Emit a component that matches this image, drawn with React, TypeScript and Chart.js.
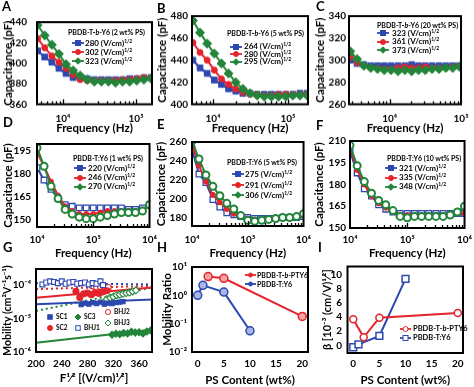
import React, { useEffect, useRef } from 'react';
import { Chart, registerables } from 'chart.js';

Chart.register(...registerables);

const FONT = '"Lato", "DejaVu Sans", sans-serif';
const BLUE = '#2c48b0';
const RED = '#e5232b';
const GREEN = '#22853a';

// ---------------- Panel A ----------------
const freqA = [4500, 5620, 7030, 8790, 10990, 13740, 17180, 21480, 26850, 33570, 41980, 52480, 65610, 82040, 102570, 128230, 160300];
const fieldsA = [280, 302, 323];
const capA1 = [412, 406, 401, 395, 390, 386, 385, 385, 384, 384, 384, 384, 384, 385, 385, 386, 386];
const capA2 = [424, 415, 407, 401, 395, 389, 384, 383, 383, 383, 383, 383, 384, 384, 385, 386, 386];
const capA3 = [437, 427, 418, 409, 399, 393, 388, 384, 382, 382, 382, 381, 382, 382, 383, 384, 385];
const capTicksA = [360, 380, 400, 420, 440];

// ---------------- Panel B ----------------
const freqB = [5400, 6720, 8360, 10410, 12970, 16140, 20090, 25010, 31180, 38810, 48310, 60130, 74820, 93330, 116100, 144500, 179900];
const fieldsB = [264, 280, 295];
const capB1 = [440, 433, 428, 422, 418, 414, 412, 410, 410, 409, 409, 409, 409, 409, 409, 410, 410];
const capB2 = [456, 447, 440, 431, 423, 418, 414, 411, 409, 409, 408, 408, 409, 409, 409, 409, 409];
const capB3 = [476, 465, 455, 446, 437, 428, 420, 414, 410, 408, 407, 407, 407, 407, 408, 408, 408];
const capTicksB = [400, 420, 440, 460, 480];

// ---------------- Panel C ----------------
const freqC = [2800, 3490, 4350, 5420, 6760, 8410, 10490, 13090, 16300, 20320, 25350, 31550, 39360, 49090, 61090, 76210, 95060];
const fieldsC = [323, 361, 373];
const capC1 = [300, 297, 296, 295, 295, 295, 295, 295, 295, 296, 295, 295, 295, 295, 295, 295, 295];
const capC2 = [303, 298, 295, 293, 293, 292, 292, 293, 294, 293, 293, 294, 293, 293, 293, 294, 294];
const capC3 = [308, 301, 295, 293, 292, 291, 291, 290, 291, 290, 291, 291, 292, 292, 293, 293, 294];
const capTicksC = [260, 280, 300, 320, 340];

// ---------------- Panels D, E, F ----------------
const freqDEF = [10000, 13340, 17780, 23710, 31620, 42170, 56230, 74990, 100000, 133400, 177800, 237100, 316200, 421700, 562300, 749900, 1000000];
const fieldsD = [220, 246, 270];
const capD1 = [184, 176, 170, 164, 160, 159, 158, 158, 158, 158, 158, 158, 158, 157, 157, 158, 160];
const capD2 = [194, 185, 175, 166, 159, 156, 154, 154, 154, 155, 156, 156, 156, 156, 156, 157, 159];
const capD3 = [197, 185, 172, 164, 157, 154, 152, 151, 151, 152, 153, 154, 155, 155, 155, 156, 160];
const capTicksD = [150, 165, 180, 195];

const fieldsE = [275, 291, 306];
const capE1 = [252, 226, 217, 199, 191, 185, 183, 181, 180, 179, 179, 179, 179, 180, 180, 180, 181];
const capE2 = [257, 235, 218, 204, 196, 189, 184, 181, 179, 178, 178, 179, 179, 180, 180, 181, 182];
const capE3 = [261, 242, 225, 213, 203, 195, 189, 182, 177, 176, 177, 178, 179, 180, 180, 181, 184];
const capTicksE = [180, 200, 220, 240, 260];

const fieldsF = [321, 335, 348];
const capF1 = [203, 188, 177, 172, 166, 163, 161, 160, 160, 160, 160, 160, 160, 160, 160, 160, 160];
const capF2 = [206, 190, 180, 172, 167, 164, 161, 159, 159, 159, 159, 159, 159, 159, 159, 160, 160];
const capF3 = [207, 193, 182, 174, 169, 166, 162, 158, 157, 158, 158, 158, 158, 158, 159, 161, 165];
const capTicksF = [150, 165, 180, 195, 210];

const freqTicks2 = [1e4, 1e5];
const freqLabels2 = ['10⁴', '10⁵'];
const freqTicks3 = [1e4, 1e5, 1e6];
const freqLabels3 = ['10⁴', '10⁵', '10⁶'];

// ---------------- Panel G ----------------
const sc1X = [270, 276, 282, 288, 294, 300, 306, 312, 318, 324, 330, 335];
const sc1Y = [2.6e-5, 2.9e-5, 2.7e-5, 3.0e-5, 2.8e-5, 3.1e-5, 2.7e-5, 2.9e-5, 2.8e-5, 3.0e-5, 3.1e-5, 3.2e-5];
const sc2X = [262, 268, 274, 280, 286, 292, 298, 304, 310];
const sc2Y = [6.5e-5, 4.3e-5, 5.5e-5, 5.8e-5, 5.2e-5, 6.0e-5, 5.6e-5, 6.3e-5, 6.8e-5];
const sc3X = [318, 324, 330, 336, 342, 348, 354, 360, 366, 372, 378];
const sc3Y = [3.3e-6, 3.5e-6, 3.4e-6, 3.7e-6, 3.6e-6, 4.0e-6, 3.8e-6, 3.9e-6, 3.6e-6, 4.1e-6, 4.4e-6];
const bhj1X = [210, 216, 222, 228, 234, 240, 246, 252, 258, 264, 270, 276, 282, 288, 294, 300, 304];
const bhj1Y = [1.05e-4, 1.2e-4, 1.3e-4, 1.25e-4, 1.15e-4, 1.3e-4, 1.1e-4, 1.2e-4, 1.25e-4, 1.1e-4, 1.15e-4, 1.2e-4, 1.05e-4, 1.15e-4, 1.1e-4, 1.3e-4, 1.0e-4];
const bhj2X = [288, 294, 300, 306, 312];
const bhj2Y = [9.5e-5, 8.5e-5, 9.0e-5, 8.0e-5, 8.5e-5];
const bhj3X = [310, 315, 320, 325, 330, 335, 340, 345, 350, 355];
const bhj3Y = [3.8e-5, 4.2e-5, 4.5e-5, 5.0e-5, 5.2e-5, 5.5e-5, 5.8e-5, 6.0e-5, 6.5e-5, 7.0e-5];
const fitX = [200, 380];
const fitSC1 = [2.7e-5, 3.7e-5];
const fitSC2 = [4.2e-5, 8.5e-5];
const fitSC3 = [1.9e-6, 4.6e-6];
const fitBHJ1 = [1.15e-4, 1.05e-4];
const fitBHJ2 = [7.6e-5, 9.5e-5];
const fitBHJ3 = [1.7e-5, 8.5e-5];
const fieldTicksG = [200, 240, 280, 320, 360];
const fieldLabelsG = ['200', '240', '280', '320', '360'];
const mobTicks = [1e-6, 1e-5, 1e-4];
const mobLabels = ['10⁻⁶', '10⁻⁵', '10⁻⁴'];

// ---------------- Panel H ----------------
const psHb = [2, 5, 20];
const ratioHb = [4.6, 4.0, 0.18];
const psHt = [0, 1, 5, 10];
const ratioHt = [1.0, 2.25, 1.3, 0.056];
const ratioTicks = [0.01, 0.1, 1, 10];
const ratioLabels = ['10⁻²', '10⁻¹', '10⁰', '10¹'];
const psTicks = [0, 5, 10, 15, 20];
const psLabels = ['0', '5', '10', '15', '20'];

// ---------------- Panel I ----------------
const psIb = [0, 2, 5, 20];
const betaIb = [3.7, 1.15, 3.9, 4.55];
const psIt = [0, 1, 5, 10];
const betaIt = [-0.25, 0.15, 1.35, 9.35];
const betaTicks = [0, 2, 4, 6, 8, 10];
const betaLabels = ['0', '2', '4', '6', '8', '10'];

// ======================================================
type Geo = { cx: number; plot: [number, number, number, number]; yTitleX: number; yLabelRight: number; xLabelY: number; xTitleY: number };
type AxisSpec = { type: 'linear' | 'logarithmic'; min: number; max: number; ticks: number[]; labels: string[]; title: string; titleSize?: number };

const PAD_TOP = 10;
const PAD_RIGHT = 12;
const TICK_SIZE = 10;
const TICK_LH = 12;

function layoutOf(g: Geo) {
  const [l, t, r, b] = g.plot;
  const left = g.cx;
  const top = t - PAD_TOP;
  const bottom = g.xTitleY + 8;
  return { left, top, width: r + PAD_RIGHT - left, height: bottom - top, yW: l - left, xH: bottom - b };
}

function scaleOpts(axis: 'x' | 'y', spec: AxisSpec, g: Geo) {
  const L = layoutOf(g);
  const TS = spec.titleSize ?? 11.5;
  const o: any = {
    type: spec.type,
    min: spec.min,
    max: spec.max,
    position: axis === 'x' ? 'bottom' : 'left',
    grid: { display: false, drawTicks: false },
    border: { display: false },
    afterBuildTicks: (s: any) => {
      s.ticks = spec.ticks.map((v) => ({ value: v }));
    },
    ticks: {
      autoSkip: false,
      maxRotation: 0,
      minRotation: 0,
      color: '#000',
      font: { family: FONT, size: TICK_SIZE, weight: 'bold', lineHeight: TICK_LH / TICK_SIZE },
      callback: (v: any) => {
        const i = spec.ticks.indexOf(Number(v));
        return i >= 0 ? spec.labels[i] : '';
      },
    },
    title: {
      display: true,
      text: spec.title,
      color: '#000',
      font: { family: FONT, size: TS, weight: 'bold', lineHeight: 1 },
    },
  };
  if (axis === 'x') {
    o.ticks.padding = g.xLabelY - g.plot[3] - TICK_LH / 2;
    o.title.padding = { top: 0, bottom: 8 - TS / 2 };
    o.afterFit = (s: any) => {
      s.height = L.xH;
    };
  } else {
    o.ticks.padding = g.plot[0] - g.yLabelRight;
    o.title.padding = { top: g.yTitleX - g.cx - TS / 2, bottom: 0 };
    o.afterFit = (s: any) => {
      s.width = L.yW;
    };
  }
  return o;
}

function logMinorTicks(min: number, max: number): number[] {
  const out: number[] = [];
  for (let e = Math.floor(Math.log10(min)); e <= Math.ceil(Math.log10(max)); e++) {
    for (let m = 2; m <= 9; m++) {
      const v = m * Math.pow(10, e);
      if (v > min && v < max) out.push(v);
    }
  }
  return out;
}

function makeFrame(xMinor: number[], xMajor: number[]) {
  return {
    id: 'frame',
    afterDatasetsDraw(chart: any) {
      const { ctx, chartArea: a, scales } = chart;
      ctx.save();
      ctx.strokeStyle = '#000';
      ctx.lineWidth = 1.3;
      const tick = (vals: number[], len: number) => {
        for (const v of vals) {
          const px = Math.round(scales.x.getPixelForValue(v)) + 0.5;
          if (px <= a.left + 2 || px >= a.right - 2) continue;
          ctx.beginPath();
          ctx.moveTo(px, a.bottom);
          ctx.lineTo(px, a.bottom - len);
          ctx.stroke();
        }
      };
      tick(xMinor, 3);
      tick(xMajor, 5);
      ctx.lineWidth = 2;
      ctx.strokeRect(a.left, a.top, a.right - a.left, a.bottom - a.top);
      ctx.restore();
    },
  };
}

function makeConfig(g: Geo, xs: AxisSpec, ys: AxisSpec, datasets: any[], minor: boolean) {
  const L = layoutOf(g);
  return {
    type: 'scatter',
    data: { datasets },
    options: {
      responsive: false,
      maintainAspectRatio: false,
      animation: false,
      events: [],
      layout: { padding: { left: 0, top: PAD_TOP, right: PAD_RIGHT, bottom: 0 } },
      plugins: { legend: { display: false }, tooltip: { enabled: false } },
      scales: { x: scaleOpts('x', xs, g), y: scaleOpts('y', ys, g) },
    },
    plugins: [makeFrame(minor ? logMinorTicks(xs.min, xs.max) : [], minor ? xs.ticks : [])],
    _layout: L,
  };
}

function pts(xs: number[], ys: number[]) {
  return xs.map((x, i) => ({ x, y: ys[i] }));
}

function capDatasets(freq: number[], fields: number[], ys: number[][], open: boolean) {
  const common = { showLine: true, borderWidth: 2, tension: 0 };
  return [
    { ...common, label: `${fields[0]}`, data: pts(freq, ys[0]), borderColor: BLUE, pointStyle: 'rect', pointRadius: 4, pointBackgroundColor: open ? '#fff' : BLUE, pointBorderColor: BLUE, pointBorderWidth: open ? 1.3 : 1, order: 3 },
    { ...common, label: `${fields[1]}`, data: pts(freq, ys[1]), borderColor: RED, pointStyle: 'circle', pointRadius: open ? 2.5 : 3, pointBackgroundColor: RED, pointBorderColor: RED, pointBorderWidth: 1, order: 2 },
    { ...common, label: `${fields[2]}`, data: pts(freq, ys[2]), borderColor: GREEN, pointStyle: open ? 'circle' : 'rectRot', pointRadius: open ? 3.5 : 4.5, pointBackgroundColor: open ? '#fff' : GREEN, pointBorderColor: GREEN, pointBorderWidth: open ? 2 : 1, order: 1 },
  ];
}

const CAP_TITLE = 'Capacitance (pF)';
const FREQ_TITLE = 'Frequency (Hz)';

// ---------- geometry ----------
const geoA: Geo = { cx: 0, plot: [37, 16, 152, 104], yTitleX: 8, yLabelRight: 27, xLabelY: 118.5, xTitleY: 127.5 };
const geoB: Geo = { cx: 155, plot: [192, 16, 308, 104], yTitleX: 162, yLabelRight: 188, xLabelY: 118.5, xTitleY: 127.5 };
const geoC: Geo = { cx: 314, plot: [349, 16, 465, 104], yTitleX: 320, yLabelRight: 346, xLabelY: 118.5, xTitleY: 127.5 };
const geoD: Geo = { cx: 0, plot: [37, 142, 152, 227], yTitleX: 8, yLabelRight: 31, xLabelY: 240, xTitleY: 253 };
const geoE: Geo = { cx: 155, plot: [192, 141, 307, 226], yTitleX: 161, yLabelRight: 187, xLabelY: 240, xTitleY: 253 };
const geoF: Geo = { cx: 314, plot: [350, 141, 466, 228], yTitleX: 319, yLabelRight: 346, xLabelY: 240, xTitleY: 253 };
const geoG: Geo = { cx: 0, plot: [36, 268, 152, 352], yTitleX: 8, yLabelRight: 31, xLabelY: 363.5, xTitleY: 378 };
const geoH: Geo = { cx: 155, plot: [192, 265.5, 308, 352], yTitleX: 167, yLabelRight: 187, xLabelY: 363.5, xTitleY: 380 };
const geoI: Geo = { cx: 314, plot: [347.5, 265, 463, 353], yTitleX: 327, yLabelRight: 342, xLabelY: 363.5, xTitleY: 380 };

function freqAxis(min: number, max: number, ticks: number[], labels: string[]): AxisSpec {
  return { type: 'logarithmic', min, max, ticks, labels, title: FREQ_TITLE };
}
function capAxis(min: number, max: number, ticks: number[]): AxisSpec {
  return { type: 'linear', min, max, ticks, labels: ticks.map(String), title: CAP_TITLE };
}

function buildConfigs() {
  const cA = makeConfig(geoA, freqAxis(4406, 165600, freqTicks2, freqLabels2), capAxis(360, 440, capTicksA), capDatasets(freqA, fieldsA, [capA1, capA2, capA3], false), true);
  const cB = makeConfig(geoB, freqAxis(5248, 184900, freqTicks2, freqLabels2), capAxis(400, 480, capTicksB), capDatasets(freqB, fieldsB, [capB1, capB2, capB3], false), true);
  const cC = makeConfig(geoC, freqAxis(2690, 100000, freqTicks2, freqLabels2), capAxis(260, 340, capTicksC), capDatasets(freqC, fieldsC, [capC1, capC2, capC3], false), true);
  const cD = makeConfig(geoD, freqAxis(1e4, 1e6, freqTicks3, freqLabels3), capAxis(145.6, 199.4, capTicksD), capDatasets(freqDEF, fieldsD, [capD1, capD2, capD3], true), true);
  const cE = makeConfig(geoE, freqAxis(1e4, 1e6, freqTicks3, freqLabels3), capAxis(171, 260, capTicksE), capDatasets(freqDEF, fieldsE, [capE1, capE2, capE3], true), true);
  const cF = makeConfig(geoF, freqAxis(1e4, 1e6, freqTicks3, freqLabels3), capAxis(150, 210, capTicksF), capDatasets(freqDEF, fieldsF, [capF1, capF2, capF3], true), true);

  const ptG = (x: number[], y: number[], color: string, style: string, open: boolean, r: number, order: number) => ({
    data: pts(x, y), showLine: false, pointStyle: style, pointRadius: r, pointBackgroundColor: open ? '#fff' : color, pointBorderColor: color, pointBorderWidth: 1.1, order,
  });
  const fitG = (y: number[], color: string, dotted: boolean, order: number) => ({
    data: pts(fitX, y), showLine: true, borderColor: color, borderWidth: 2, borderDash: dotted ? [2, 3] : [], pointRadius: 0, order,
  });
  const cG = makeConfig(
    geoG,
    { type: 'linear', min: 200, max: 380, ticks: fieldTicksG, labels: fieldLabelsG, title: 'F¹⁄² [(V/cm)¹⁄²]' },
    { type: 'logarithmic', min: 1e-6, max: 3.04e-4, ticks: mobTicks, labels: mobLabels, title: 'Mobility (cm²V⁻¹s⁻¹)', titleSize: 10.5 },
    [
      ptG(sc1X, sc1Y, BLUE, 'rect', false, 3, 1),
      ptG(sc2X, sc2Y, RED, 'circle', false, 3, 1),
      ptG(sc3X, sc3Y, GREEN, 'rectRot', false, 3.5, 1),
      ptG(bhj1X, bhj1Y, BLUE, 'rect', true, 3.5, 1),
      ptG(bhj2X, bhj2Y, RED, 'circle', true, 3, 1),
      ptG(bhj3X, bhj3Y, GREEN, 'rectRot', true, 3.5, 1),
      fitG(fitSC1, BLUE, false, 5),
      fitG(fitSC2, RED, false, 5),
      fitG(fitSC3, GREEN, false, 5),
      fitG(fitBHJ1, BLUE, true, 5),
      fitG(fitBHJ2, RED, true, 5),
      fitG(fitBHJ3, GREEN, true, 5),
    ],
    false
  );

  const cH = makeConfig(
    geoH,
    { type: 'linear', min: -1.09, max: 21.1, ticks: psTicks, labels: psLabels, title: 'PS Content (wt%)' },
    { type: 'logarithmic', min: 0.01, max: 10, ticks: ratioTicks, labels: ratioLabels, title: 'Mobility Ratio' },
    [
      { data: pts(psHb, ratioHb), showLine: true, borderColor: RED, borderWidth: 2, pointStyle: 'circle', pointRadius: 4, pointBackgroundColor: '#f5a3a3', pointBorderColor: RED, pointBorderWidth: 1.5, order: 1 },
      { data: pts(psHt, ratioHt), showLine: true, borderColor: BLUE, borderWidth: 2, pointStyle: 'circle', pointRadius: 4, pointBackgroundColor: '#a9b5e6', pointBorderColor: BLUE, pointBorderWidth: 1.5, order: 2 },
    ],
    false
  );

  const cI = makeConfig(
    geoI,
    { type: 'linear', min: -1.1, max: 21, ticks: psTicks, labels: psLabels, title: 'PS Content (wt%)' },
    { type: 'linear', min: -1.06, max: 11.1, ticks: betaTicks, labels: betaLabels, title: 'β [10⁻³ (cm/V)¹⁄²]', titleSize: 11 },
    [
      { data: pts(psIb, betaIb), showLine: true, borderColor: RED, borderWidth: 2, pointStyle: 'circle', pointRadius: 3.5, pointBackgroundColor: '#fff', pointBorderColor: RED, pointBorderWidth: 1.5, order: 1 },
      { data: pts(psIt, betaIt), showLine: true, borderColor: BLUE, borderWidth: 2, pointStyle: 'rect', pointRadius: 4.8, pointBackgroundColor: '#fff', pointBorderColor: BLUE, pointBorderWidth: 1.5, order: 2 },
    ],
    false
  );
  return [cA, cB, cC, cD, cE, cF, cG, cH, cI];
}

function ChartCanvas({ config }: { config: any }) {
  const ref = useRef<HTMLCanvasElement>(null);
  const L = config._layout;
  useEffect(() => {
    const { _layout, ...cfg } = config;
    const chart = new Chart(ref.current as HTMLCanvasElement, cfg);
    return () => chart.destroy();
  }, [config]);
  return <canvas ref={ref} width={L.width} height={L.height} style={{ position: 'absolute', left: L.left, top: L.top, width: L.width, height: L.height }} />;
}

// ---------------- Legends (HTML) ----------------
type Shape = 'square' | 'circle' | 'diamond';
function Glyph({ shape, color, open, size, line = true, w = 12 }: { shape: Shape; color: string; open?: boolean; size: number; line?: boolean; w?: number }) {
  const h = 10;
  const cx = w / 2;
  const cy = h / 2;
  const fill = open ? '#fff' : color;
  let mark: any;
  if (shape === 'square') mark = <rect x={cx - size / 2} y={cy - size / 2} width={size} height={size} fill={fill} stroke={color} strokeWidth={1} />;
  else if (shape === 'circle') mark = <circle cx={cx} cy={cy} r={size / 2} fill={fill} stroke={color} strokeWidth={1} />;
  else mark = <polygon points={`${cx},${cy - size / 2} ${cx + size / 2},${cy} ${cx},${cy + size / 2} ${cx - size / 2},${cy}`} fill={fill} stroke={color} strokeWidth={1} />;
  return (
    <svg width={w} height={h} style={{ display: 'block', flex: 'none' }}>
      {line && <line x1={0} y1={cy} x2={w} y2={cy} stroke={color} strokeWidth={1.8} />}
      {mark}
    </svg>
  );
}

function Row({ x, y, size, glyph, children, gap = 2 }: any) {
  return (
    <div style={{ position: 'absolute', left: x, top: y - 5, height: 10, display: 'flex', alignItems: 'center', gap, fontFamily: FONT, fontWeight: 700, fontSize: size, lineHeight: '10px', whiteSpace: 'nowrap', color: '#000' }}>
      {glyph}
      <span>{children}</span>
    </div>
  );
}

function Sup({ children }: any) {
  return <span style={{ fontSize: '0.62em', position: 'relative', top: '-0.55em' }}>{children}</span>;
}

function Title({ x, y, size, children }: any) {
  return (
    <div style={{ position: 'absolute', left: x, top: y - 5, height: 10, lineHeight: '10px', fontFamily: FONT, fontWeight: 700, fontSize: size, whiteSpace: 'nowrap', color: '#000' }}>{children}</div>
  );
}

function CapLegend({ tx, ty, title, mx, tX, ys, fields }: any) {
  const glyphs = [
    <Glyph shape="square" color={BLUE} size={5} />,
    <Glyph shape="circle" color={RED} size={5} />,
    <Glyph shape="diamond" color={GREEN} size={6.5} />,
  ];
  return (
    <>
      <Title x={tx} y={ty} size={7}>{title}</Title>
      {fields.map((f: number, i: number) => (
        <Row key={i} x={mx} y={ys[i]} size={8} glyph={glyphs[i]} gap={tX - mx - 12}>
          {f} (V/cm)<Sup>1/2</Sup>
        </Row>
      ))}
    </>
  );
}

function Letter({ x, y, children }: any) {
  return <div style={{ position: 'absolute', left: x, top: y, fontFamily: FONT, fontWeight: 700, fontSize: 13, lineHeight: '13px', color: '#000' }}>{children}</div>;
}

const configs = buildConfigs();

export default function App() {
  return (
    <div style={{ position: 'absolute', left: 0, top: 0, width: 474, height: 387, overflow: 'hidden', background: '#fff' }}>
      {configs.map((c, i) => (
        <ChartCanvas key={i} config={c} />
      ))}

      <Letter x={2} y={0}>A</Letter>
      <Letter x={157} y={2}>B</Letter>
      <Letter x={316} y={0}>C</Letter>
      <Letter x={3} y={116}>D</Letter>
      <Letter x={157} y={118}>E</Letter>
      <Letter x={316} y={119}>F</Letter>
      <Letter x={3} y={241}>G</Letter>
      <Letter x={157} y={241}>H</Letter>
      <Letter x={318} y={241}>I</Letter>

      <CapLegend tx={68} ty={32} title={<>PBDB-T-<i>b</i>-Y6 (2 wt% PS)</>} mx={72} tX={85} ys={[43.3, 52.3, 61]} fields={fieldsA} />
      <CapLegend tx={227} ty={33.3} title={<>PBDB-T-<i>b</i>-Y6 (5 wt% PS)</>} mx={230} tX={244} ys={[46.7, 54, 61.7]} fields={fieldsB} />
      <CapLegend tx={377} ty={25} title={<>PBDB-T-<i>b</i>-Y6 (20 wt% PS)</>} mx={377} tX={392} ys={[33.3, 41.7, 50]} fields={fieldsC} />
      <CapLegend tx={73} ty={158.3} title="PBDB-T:Y6 (1 wt% PS)" mx={74} tX={88} ys={[168.3, 177.7, 186.7]} fields={fieldsD} />
      <CapLegend tx={227} ty={162.3} title="PBDB-T:Y6 (5 wt% PS)" mx={232} tX={245} ys={[174.3, 185, 195]} fields={fieldsE} />
      <CapLegend tx={387} ty={158.3} title="PBDB-T:Y6 (10 wt% PS)" mx={385} tX={399} ys={[168.3, 177.7, 186.7]} fields={fieldsF} />

      {/* Panel G legend */}
      <Row x={47} y={317} size={6.5} glyph={<Glyph shape="square" color={BLUE} size={4.5} line={false} w={6} />} gap={3}>SC1</Row>
      <Row x={47} y={328} size={6.5} glyph={<Glyph shape="circle" color={RED} size={5} line={false} w={6} />} gap={3}>SC2</Row>
      <Row x={75} y={317} size={6.5} glyph={<Glyph shape="diamond" color={GREEN} size={6} line={false} w={6} />} gap={3}>SC3</Row>
      <Row x={75} y={328} size={6.5} glyph={<Glyph shape="square" color={BLUE} open size={4.5} line={false} w={6} />} gap={3}>BHJ1</Row>
      <Row x={105} y={312} size={6.5} glyph={<Glyph shape="circle" color={RED} open size={5} line={false} w={6} />} gap={3}>BHJ2</Row>
      <Row x={105} y={323} size={6.5} glyph={<Glyph shape="diamond" color={GREEN} open size={6} line={false} w={6} />} gap={3}>BHJ3</Row>

      {/* Panel H legend */}
      <Row x={245} y={275} size={7} glyph={<Glyph shape="circle" color={RED} size={4} w={11} />} gap={1}>
        PBDB-T-<i>b</i>-PTY6
      </Row>
      <Row x={245} y={284} size={7} glyph={<Glyph shape="circle" color={BLUE} size={4} w={11} />} gap={1}>
        PBDB-T:Y6
      </Row>

      {/* Panel I legend */}
      <Row x={400} y={328.7} size={7.5} glyph={<Glyph shape="circle" color={RED} open size={5} w={11} />} gap={2}>
        PBDB-T-<i>b</i>-PTY6
      </Row>
      <Row x={400} y={338} size={7.5} glyph={<Glyph shape="square" color={BLUE} open size={5} w={11} />} gap={2}>
        PBDB-T:Y6
      </Row>
    </div>
  );
}
